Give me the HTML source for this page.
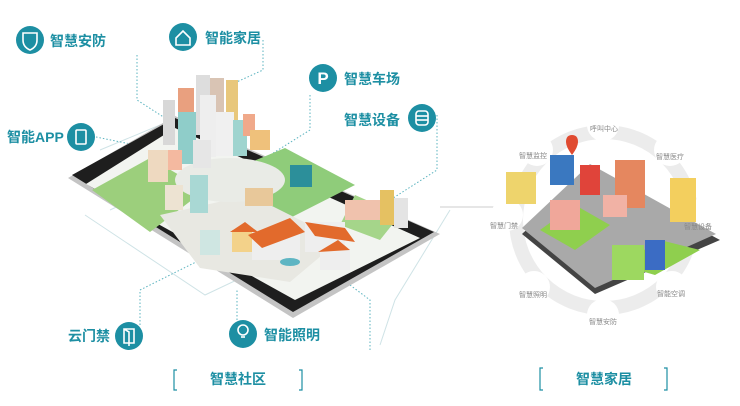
<!DOCTYPE html>
<html><head><meta charset="utf-8"><style>
html,body{margin:0;padding:0;background:#fff;}
svg{display:block;font-family:"Liberation Sans","Noto Sans CJK SC",sans-serif;}
.t{fill:#1d8fa3;font-weight:bold;font-size:14px;}
.s{fill:#888;font-size:7px;}
.dl{stroke:#5ab3bf;stroke-width:1;fill:none;stroke-dasharray:1.5 2;}
.ln{stroke:#cfe3e6;stroke-width:1;fill:none;}
</style></head><body>
<svg width="740" height="406" viewBox="0 0 740 406">
<polyline class="ln" points="100,150 160,125 175,180 110,210"/>
<polyline class="ln" points="85,215 205,295 300,250"/>
<polyline class="ln" points="380,345 395,300 450,210"/>
<polyline class="dl" points="137,55 137,100 165,118"/>
<polyline class="dl" points="263,40 263,70 230,85"/>
<polyline class="dl" points="310,95 310,130 270,155"/>
<polyline class="dl" points="437,115 437,170 390,200"/>
<polyline class="dl" points="96,137 160,150"/>
<polyline class="dl" points="140,325 140,290 200,260"/>
<polyline class="dl" points="237,320 237,290"/>
<polyline class="dl" points="370,350 370,300 350,285"/>
<line x1="440" y1="207" x2="495" y2="207" stroke="#ccc" stroke-width="1"/>
<!-- tablet -->
<polygon points="68,178 175,116 440,234 293,318" fill="#c4c4c4"/>
<polygon points="72,175 175,118 434,232 293,312" fill="#1e1e1e"/>
<polygon points="86,184 175,128 420,238 295,300" fill="#f2f4f0"/>
<polygon points="92,190 150,158 205,190 150,232" fill="#9ccf7c"/>
<polygon points="220,175 285,148 355,185 290,218" fill="#8fcc7a"/>
<polygon points="355,195 400,215 380,240 340,225" fill="#a5d58a"/>
<polygon points="160,215 250,195 340,240 290,282 200,268" fill="#e8e8e2"/>
<ellipse cx="230" cy="180" rx="55" ry="22" fill="#e9ebe6"/>
<!-- buildings -->
<rect x="163" y="100" width="12" height="45" fill="#d8d8d8"/>
<rect x="178" y="88" width="16" height="42" fill="#e9a07f"/>
<rect x="196" y="75" width="14" height="60" fill="#ddd"/>
<rect x="210" y="78" width="14" height="58" fill="#d9c4b4"/>
<rect x="226" y="80" width="12" height="50" fill="#e8c77b"/>
<rect x="178" y="112" width="18" height="52" fill="#8fcdc9"/>
<rect x="200" y="95" width="16" height="62" fill="#eee"/>
<rect x="216" y="112" width="18" height="44" fill="#f0f0f0"/>
<rect x="233" y="120" width="14" height="36" fill="#9fd4cf"/>
<rect x="243" y="114" width="12" height="22" fill="#f0a98a"/>
<rect x="250" y="130" width="20" height="20" fill="#efc17b"/>
<rect x="193" y="140" width="18" height="28" fill="#e6e6e6"/>
<rect x="148" y="150" width="20" height="32" fill="#eed9c0"/>
<rect x="168" y="150" width="14" height="20" fill="#f4b9a0"/>
<rect x="190" y="175" width="18" height="38" fill="#a9d8d4"/>
<rect x="165" y="185" width="18" height="25" fill="#ede3d2"/>
<rect x="290" y="165" width="22" height="22" fill="#2c8f9a"/>
<rect x="245" y="188" width="28" height="18" fill="#e8c89a"/>
<rect x="200" y="230" width="20" height="25" fill="#cfe6e2"/>
<rect x="232" y="230" width="22" height="22" fill="#f3d28a"/>
<polygon points="230,232 245,222 258,232" fill="#e26a2c"/>
<rect x="252" y="232" width="48" height="28" fill="#eee"/>
<polygon points="248,235 290,218 305,232 262,248" fill="#e26a2c"/>
<rect x="305" y="222" width="40" height="30" fill="#eee"/>
<polygon points="305,222 345,228 355,242 315,236" fill="#e26a2c"/>
<rect x="320" y="250" width="30" height="20" fill="#eee"/>
<polygon points="318,252 338,240 350,250" fill="#e26a2c"/>
<rect x="345" y="200" width="35" height="20" fill="#f0c2ad"/>
<rect x="380" y="190" width="14" height="35" fill="#e5c162"/>
<rect x="394" y="198" width="14" height="30" fill="#e4e4e4"/>
<ellipse cx="290" cy="262" rx="10" ry="4" fill="#5eb5c3"/>
<g fill="#1d8fa3">
<circle cx="30" cy="40" r="14"/><circle cx="183" cy="37" r="14"/><circle cx="323" cy="78" r="14"/>
<circle cx="422" cy="118" r="14"/><circle cx="81" cy="137" r="14"/><circle cx="129" cy="336" r="14"/><circle cx="243" cy="334" r="14"/>
</g>
<g fill="none" stroke="#fff" stroke-width="1.6">
<path d="M23,33 h14 v7 q0,7 -7,10 q-7,-3 -7,-10z"/>
<path d="M176,38 l7,-7 7,7 v7 h-14z"/>
<rect x="416" y="111" width="12" height="14" rx="3"/><line x1="416" y1="116" x2="428" y2="116"/><line x1="416" y1="120" x2="428" y2="120"/>
<rect x="76" y="130" width="10" height="14" rx="1"/>
<path d="M124,329 h10 v14 h-10z M124,329 l5,3 v14"/>
<circle cx="243" cy="330" r="5"/><line x1="241" y1="337" x2="245" y2="337"/>
</g>
<text x="323" y="84" fill="#fff" font-size="17" font-weight="bold" text-anchor="middle">P</text>
<text class="t" x="50" y="46">智慧安防</text>
<text class="t" x="205" y="43">智能家居</text>
<text class="t" x="344" y="84">智慧车场</text>
<text class="t" x="344" y="125">智慧设备</text>
<text class="t" x="7" y="142">智能APP</text>
<text class="t" x="68" y="341">云门禁</text>
<text class="t" x="264" y="340">智能照明</text>
<g fill="none" stroke="#1d8fa3" stroke-width="1.2">
<path d="M177,370 h-3 v20 h3"/><path d="M299,370 h3 v20 h-3"/>
<path d="M543,368 h-3 v22 h3"/><path d="M664,368 h3 v22 h-3"/>
</g>
<text class="t" x="238" y="384" text-anchor="middle" font-size="15">智慧社区</text>
<text class="t" x="604" y="384" text-anchor="middle" font-size="15">智慧家居</text>
<circle cx="604" cy="220" r="88" fill="none" stroke="#ececec" stroke-width="14"/>
<g fill="#fff"><circle cx="603" cy="125" r="16"/><circle cx="537" cy="150" r="16"/><circle cx="670" cy="150" r="16"/>
<circle cx="507" cy="215" r="16"/><circle cx="700" cy="215" r="16"/><circle cx="534" cy="287" r="16"/><circle cx="672" cy="287" r="16"/><circle cx="603" cy="315" r="16"/></g>
<polygon points="522,234 590,170 720,240 595,294" fill="#444"/>
<polygon points="522,228 590,164 716,234 595,288" fill="#a9a9a9"/>
<polygon points="540,230 575,205 610,225 575,250" fill="#8fcf4e"/>
<polygon points="620,265 660,240 700,250 655,275" fill="#8fcf4e"/>
<rect x="506" y="172" width="30" height="32" fill="#eed46c"/>
<rect x="550" y="155" width="24" height="30" fill="#3a78c0"/>
<rect x="580" y="165" width="20" height="30" fill="#e0443a"/>
<rect x="615" y="160" width="30" height="48" fill="#e5875f"/>
<rect x="670" y="178" width="26" height="44" fill="#f3cf5e"/>
<rect x="603" y="195" width="24" height="22" fill="#f1b2a5"/>
<rect x="550" y="200" width="30" height="30" fill="#f0a79a"/>
<rect x="612" y="245" width="32" height="35" fill="#9dd860"/>
<rect x="645" y="240" width="20" height="30" fill="#3b6cc4"/>
<path d="M572,135 q-6,0 -6,7 q0,5 6,13 q6,-8 6,-13 q0,-7 -6,-7z" fill="#e04a30"/>
<g class="s">
<text x="590" y="131">呼叫中心</text><text x="519" y="158">智慧监控</text><text x="656" y="159">智慧医疗</text>
<text x="490" y="228">智慧门禁</text><text x="684" y="229">智慧设备</text><text x="519" y="297">智慧照明</text>
<text x="657" y="296">智能空调</text><text x="589" y="324">智慧安防</text>
</g>
</svg>
</body></html>
